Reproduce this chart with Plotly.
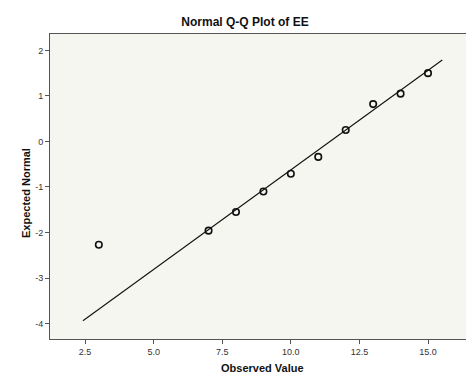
import plotly.graph_objects as go

# Data
observed = [3, 7, 8, 9, 10, 11, 12, 13, 14, 15]
expected = [-2.27, -1.96, -1.55, -1.10, -0.71, -0.34, 0.25, 0.82, 1.05, 1.50]
line_x = [2.42, 15.52]
line_y = [-3.94, 1.79]
x_ticks = [2.5, 5.0, 7.5, 10.0, 12.5, 15.0]
x_tick_labels = ["2.5", "5.0", "7.5", "10.0", "12.5", "15.0"]
y_ticks = [-4, -3, -2, -1, 0, 1, 2]
y_tick_labels = ["-4", "-3", "-2", "-1", "0", "1", "2"]

W, H = 474, 376
L, R, T, B = 42, 9, 26, 45

fig = go.Figure()
fig.add_trace(go.Scatter(x=line_x, y=line_y, mode="lines",
                         line=dict(color="#111111", width=1.1), hoverinfo="skip"))
fig.add_trace(go.Scatter(x=observed, y=expected, mode="markers",
                         marker=dict(symbol="circle-open", size=6.5, color="#111111",
                                     line=dict(width=1.6, color="#111111"))))

font = "Liberation Sans, Arial, sans-serif"
fig.update_layout(
    width=W, height=H,
    margin=dict(l=L, r=R, t=T, b=B),
    paper_bgcolor="white",
    plot_bgcolor="#f6f6f1",
    showlegend=False,
    font=dict(family=font, size=9, color="#333333"),
    title=dict(text="<b>Normal Q-Q Plot of EE</b>", x=0.5, xanchor="center",
               y=1 - 14 / H, yanchor="middle", yref="container",
               font=dict(size=12, color="#111111", family=font)),
)
fig.update_xaxes(range=[1.22, 16.64], tickvals=x_ticks, ticktext=x_tick_labels,
                 showgrid=False, zeroline=False, showline=True, mirror=True,
                 linecolor="#555555", linewidth=1, ticks="outside", ticklen=4,
                 tickcolor="#555555", tickfont=dict(size=9, color="#333333"))
fig.update_yaxes(range=[-4.34, 2.36], tickvals=y_ticks, ticktext=y_tick_labels,
                 showgrid=False, zeroline=False, showline=True, mirror=True,
                 linecolor="#555555", linewidth=1, ticks="outside", ticklen=4,
                 tickcolor="#555555", tickfont=dict(size=9, color="#333333"))

fig.add_annotation(text="<b>Observed Value</b>", xref="paper", yref="paper",
                   x=0.5 + (255 - (L + (W - L - R) / 2)) / (W - L - R),
                   y=-(360 - (H - B)) / (H - T - B), yanchor="middle",
                   showarrow=False, font=dict(size=11, color="#111111", family=font))
fig.add_annotation(text="<b>Expected Normal</b>", xref="paper", yref="paper",
                   x=-(L - 18) / (W - L - R), xanchor="center",
                   y=1 - (185 - T) / (H - T - B), yanchor="middle", textangle=-90,
                   showarrow=False, font=dict(size=11, color="#111111", family=font))

fig.write_html("out.html")
